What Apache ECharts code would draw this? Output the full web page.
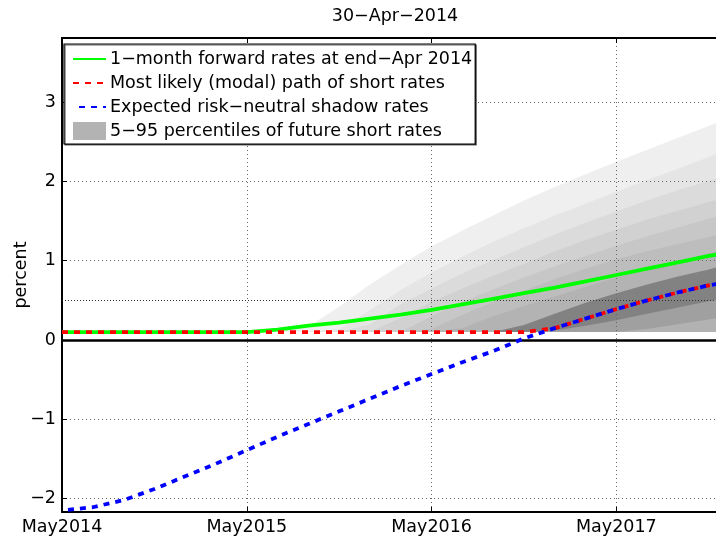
<!DOCTYPE html>
<html>
<head>
<meta charset="utf-8">
<script src="https://cdn.jsdelivr.net/npm/echarts@6/dist/echarts.min.js"></script>
<style>html,body{margin:0;padding:0;background:#fff}#c{width:716px;height:543px}</style>
</head>
<body>
<div id="c"></div>
<script>
// months after May 2014
const months = [0,2,4,6,8,10,12,14,16,18,20,22,24,26,28,30,32,34,36,38,40,42,42.6];
const tickMonths = [0,12,24,36];
const tickLabels = ['May2014','May2015','May2016','May2017'];

const forwardRates = [0.10,0.10,0.10,0.10,0.10,0.10,0.10,0.13,0.18,0.22,0.27,0.32,0.38,0.45,0.52,0.59,0.66,0.74,0.82,0.90,0.98,1.06,1.08];
const modalPath    = [0.10,0.10,0.10,0.10,0.10,0.10,0.10,0.10,0.10,0.10,0.10,0.10,0.10,0.10,0.10,0.10,0.15,0.27,0.39,0.50,0.60,0.69,0.71];
const shadowRates  = [-2.15,-2.11,-2.02,-1.88,-1.72,-1.56,-1.39,-1.22,-1.06,-0.90,-0.74,-0.58,-0.43,-0.28,-0.14,0.02,0.15,0.27,0.39,0.50,0.60,0.69,0.71];

// fan chart band boundaries (bound1 = 95th percentile ... floorRate = lower bound)
const bound1  = [0.10,0.10,0.10,0.10,0.10,0.10,0.10,0.10,0.17,0.42,0.70,0.95,1.18,1.38,1.57,1.76,1.93,2.09,2.25,2.40,2.55,2.70,2.75];
const bound2  = [0.10,0.10,0.10,0.10,0.10,0.10,0.10,0.10,0.10,0.14,0.38,0.63,0.85,1.05,1.24,1.41,1.57,1.72,1.87,2.02,2.16,2.31,2.36];
const bound3  = [0.10,0.10,0.10,0.10,0.10,0.10,0.10,0.10,0.10,0.10,0.20,0.45,0.65,0.84,1.01,1.17,1.33,1.48,1.62,1.76,1.89,2.01,2.04];
const bound4  = [0.10,0.10,0.10,0.10,0.10,0.10,0.10,0.10,0.10,0.10,0.10,0.28,0.48,0.65,0.81,0.96,1.12,1.26,1.39,1.52,1.63,1.74,1.77];
const bound5  = [0.10,0.10,0.10,0.10,0.10,0.10,0.10,0.10,0.10,0.10,0.10,0.10,0.30,0.48,0.64,0.79,0.93,1.06,1.19,1.31,1.42,1.53,1.56];
const bound6  = [0.10,0.10,0.10,0.10,0.10,0.10,0.10,0.10,0.10,0.10,0.10,0.10,0.14,0.32,0.48,0.62,0.77,0.90,1.02,1.12,1.21,1.30,1.33];
const bound7  = [0.10,0.10,0.10,0.10,0.10,0.10,0.10,0.10,0.10,0.10,0.10,0.10,0.10,0.15,0.30,0.43,0.55,0.67,0.79,0.90,1.00,1.09,1.12];
const bound8  = [0.10,0.10,0.10,0.10,0.10,0.10,0.10,0.10,0.10,0.10,0.10,0.10,0.10,0.10,0.10,0.19,0.33,0.47,0.59,0.70,0.80,0.89,0.92];
const bound9  = [0.10,0.10,0.10,0.10,0.10,0.10,0.10,0.10,0.10,0.10,0.10,0.10,0.10,0.10,0.10,0.10,0.12,0.18,0.25,0.33,0.41,0.49,0.51];
const bound10 = [0.10,0.10,0.10,0.10,0.10,0.10,0.10,0.10,0.10,0.10,0.10,0.10,0.10,0.10,0.10,0.10,0.10,0.10,0.10,0.14,0.20,0.26,0.28];
const floorRate = [0.10,0.10,0.10,0.10,0.10,0.10,0.10,0.10,0.10,0.10,0.10,0.10,0.10,0.10,0.10,0.10,0.10,0.10,0.10,0.10,0.10,0.10,0.10];

// fill colour under each boundary (painted top-down, each covering the previous)
const bandColors = ['#efefef','#e5e5e5','#dbdbdb','#d1d1d1','#c7c7c7','#bdbdbd','#b3b3b3','#828282','#a0a0a0','#b2b2b2','#ffffff'];
const FONT = 'DejaVu Sans';
const FS = 17.5;

const pairs = arr => months.map((m, i) => [m, arr[i]]);

const bounds = [bound1, bound2, bound3, bound4, bound5, bound6, bound7, bound8, bound9, bound10, floorRate];
const series = [];
bounds.forEach((b, k) => {
  series.push({
    type: 'line', data: pairs(b), symbol: 'none', showSymbol: false,
    lineStyle: { width: 0, opacity: 0 },
    areaStyle: { color: bandColors[k], opacity: 1, origin: 'start' },
    z: 1, silent: true
  });
});
const fanName = '5\u221295 percentiles of future short rates';
series.push({
  name: '1\u2212month forward rates at end\u2212Apr 2014', type: 'line', data: pairs(forwardRates),
  symbol: 'none', lineStyle: { color: '#00ff00', width: 3.8 }, itemStyle: { color: '#00ff00' }, z: 5,
  markLine: {
    silent: true, symbol: 'none', label: { show: false }, animation: false,
    data: [
      { yAxis: 0, lineStyle: { color: '#000', width: 2.5, type: 'solid' } },
      { yAxis: 0.5, lineStyle: { color: '#333', width: 1, type: [1, 2] } }
    ]
  }
});
series.push({
  name: 'Most likely (modal) path of short rates', type: 'line', data: pairs(modalPath),
  symbol: 'none', lineStyle: { color: '#ff0000', width: 3.8, type: [6, 6] }, itemStyle: { color: '#ff0000' }, z: 6
});
series.push({
  name: 'Expected risk\u2212neutral shadow rates', type: 'line', data: pairs(shadowRates),
  symbol: 'none', lineStyle: { color: '#0000ff', width: 3.8, type: [6, 6], dashOffset: 6 }, itemStyle: { color: '#0000ff' }, z: 7
});
series.push({
  name: fanName, type: 'line', data: [], symbol: 'none',
  itemStyle: { color: '#b3b3b3' }, lineStyle: { color: '#b3b3b3' }
});

const chart = echarts.init(document.getElementById('c'), null, { renderer: 'canvas' });
chart.setOption({
  animation: false,
  backgroundColor: '#fff',
  title: {
    text: '30\u2212Apr\u22122014', left: 390, top: 2, textAlign: 'center',
    textStyle: { fontFamily: FONT, fontSize: FS, fontWeight: 'normal', color: '#000' }
  },
  grid: { left: 62, right: -2, top: 38, bottom: 31, containLabel: false, outerBoundsMode: 'none' },
  legend: {
    left: 64, top: 44, orient: 'vertical',
    padding: [6, 3, 4, 8],
    itemWidth: 33, itemHeight: 18, itemGap: 6,
    backgroundColor: '#fff', borderColor: '#000', borderWidth: 1.2,
    shadowColor: 'rgba(0,0,0,0.6)', shadowOffsetX: 1, shadowOffsetY: 1, shadowBlur: 0,
    textStyle: { fontFamily: FONT, fontSize: FS, color: '#000', lineHeight: 18, padding: [0,0,0,-1] },
    data: [
      { name: '1\u2212month forward rates at end\u2212Apr 2014', itemStyle: { opacity: 0 } },
      { name: 'Most likely (modal) path of short rates', itemStyle: { opacity: 0 } },
      { name: 'Expected risk\u2212neutral shadow rates', itemStyle: { opacity: 0 } },
      { name: fanName, icon: 'rect' }
    ],
    selectedMode: false
  },
  xAxis: [{
    type: 'value', min: 0, max: 42.6, interval: 12, z: 3,
    axisLine: { show: true, onZero: false, lineStyle: { color: '#000', width: 2 } },
    axisTick: { show: true, inside: true, length: 5, lineStyle: { color: '#000', width: 1 } },
    axisLabel: {
      showMaxLabel: false, margin: 6, color: '#000', fontFamily: FONT, fontSize: FS,
      formatter: v => { const i = tickMonths.indexOf(v); return i >= 0 ? tickLabels[i] : ''; }
    },
    splitLine: { show: true, lineStyle: { color: '#666', width: 1, type: [1, 3] } }
  }, {
    type: 'value', position: 'top', min: 0, max: 42.6, interval: 12, z: 3,
    axisLine: { show: true, onZero: false, lineStyle: { color: '#000', width: 2 } },
    axisTick: { show: true, inside: true, length: 5, lineStyle: { color: '#000', width: 1 } },
    axisLabel: { show: false }, splitLine: { show: false }
  }],
  yAxis: {
    type: 'value', min: -2.17, max: 3.81, z: 3,
    name: 'percent', nameLocation: 'middle', nameGap: 32, nameMoveOverlap: false,
    nameTextStyle: { fontFamily: FONT, fontSize: FS, color: '#000' },
    axisLine: { show: true, onZero: false, lineStyle: { color: '#000', width: 2 } },
    axisTick: { show: true, inside: true, length: 5, lineStyle: { color: '#000', width: 1 } },
    axisLabel: {
      showMinLabel: false, showMaxLabel: false, margin: 6, color: '#000', fontFamily: FONT, fontSize: FS,
      formatter: v => String(v).replace('-', '\u2212')
    },
    splitLine: { show: true, lineStyle: { color: '#666', width: 1, type: [1, 3] } }
  },
  series: series
});
</script>
</body>
</html>
